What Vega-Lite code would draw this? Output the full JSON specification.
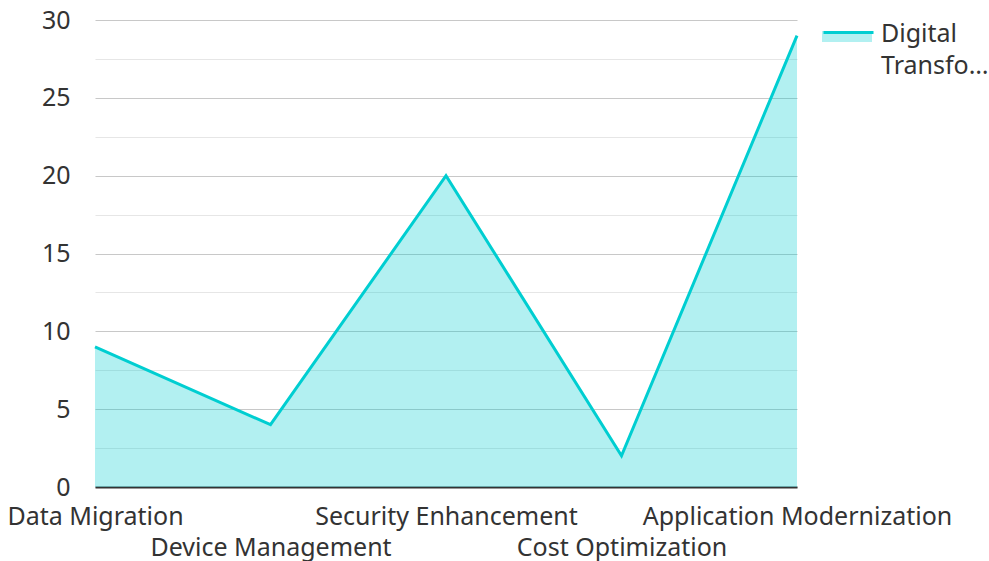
{
  "$schema": "https://vega.github.io/schema/vega-lite/v6.json",
  "width": 702,
  "height": 467,
  "autosize": {"type": "none"},
  "padding": {"left": 95, "top": 20, "right": 192, "bottom": 74},
  "background": "white",
  "config": {
    "view": {"stroke": null},
    "font": "Noto Sans",
    "axis": {"labelFont": "Noto Sans", "labelFontSize": 25, "labelColor": "#333333", "labelLimit": 400},
    "legend": {"labelFont": "Noto Sans", "labelFontSize": 25, "labelColor": "#333333", "labelLimit": 400}
  },
  "data": {
    "values": [
      {"category": "Data Migration", "value": 9, "series": "Digital Transformation"},
      {"category": "Device Management", "value": 4, "series": "Digital Transformation"},
      {"category": "Security Enhancement", "value": 20, "series": "Digital Transformation"},
      {"category": "Cost Optimization", "value": 2, "series": "Digital Transformation"},
      {"category": "Application Modernization", "value": 29, "series": "Digital Transformation"}
    ]
  },
  "encoding": {
    "x": {
      "field": "category",
      "type": "ordinal",
      "sort": null,
      "scale": {"type": "point", "padding": 0},
      "axis": {
        "title": null,
        "labelAngle": 0,
        "ticks": false,
        "domainColor": "#333333",
        "domainWidth": 2,
        "grid": false,
        "labelPadding": 17,
        "labelBaseline": "top",
        "labelLineHeight": 31,
        "labelOverlap": false,
        "labelExpr": "datum.index * 4 % 2 == 1 ? ['', datum.label] : datum.label"
      }
    },
    "y": {
      "field": "value",
      "type": "quantitative",
      "scale": {"domain": [0, 30], "nice": false},
      "axis": {
        "title": null,
        "values": [0, 2.5, 5, 7.5, 10, 12.5, 15, 17.5, 20, 22.5, 25, 27.5, 30],
        "labelExpr": "datum.value % 5 == 0 ? datum.label : ''",
        "ticks": false,
        "domain": false,
        "labelPadding": 25,
        "gridColor": {"condition": {"test": "datum.value % 5 == 0", "value": "#c8c8c8"}, "value": "#e6e6e6"},
        "gridWidth": 1.2
      }
    }
  },
  "layer": [
    {
      "mark": {"type": "area", "opacity": 0.3},
      "encoding": {
        "fill": {
          "field": "series",
          "type": "nominal",
          "scale": {"range": ["#00CED1"]},
          "legend": {
            "title": null,
            "orient": "none",
            "legendX": 727,
            "legendY": -23,
            "symbolType": "M-1,0.36H1V0.8H-1Z",
            "symbolSize": 2500,
            "symbolOpacity": 0.3,
            "symbolStrokeWidth": 0,
            "labelOffset": 9,
            "labelBaseline": "top",
            "labelExpr": "['Digital', 'Transfo…']",
            "encode": {"labels": {"update": {"lineHeight": {"value": 32}}}}
          }
        }
      }
    },
    {
      "mark": {"type": "line", "strokeWidth": 3},
      "encoding": {
        "stroke": {
          "field": "series",
          "type": "nominal",
          "scale": {"range": ["#00CED1"]},
          "legend": {
            "title": null,
            "orient": "none",
            "legendX": 727,
            "legendY": -23,
            "symbolType": "M-1,0.36H1",
            "symbolSize": 2500,
            "symbolStrokeWidth": 3,
            "labelOffset": 9,
            "labelBaseline": "top",
            "labelOpacity": 0,
            "labelExpr": "[' ', ' ']",
            "encode": {"labels": {"update": {"lineHeight": {"value": 32}}}}
          }
        }
      }
    }
  ]
}
